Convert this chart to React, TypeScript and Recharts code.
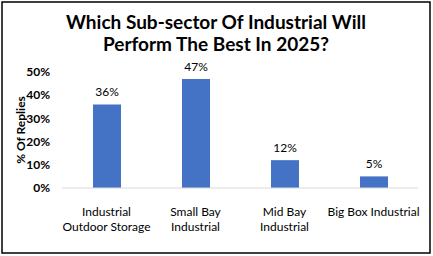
import React from "react";
import { BarChart, Bar, XAxis, YAxis, LabelList, Label } from "recharts";

const categories = ["Industrial\nOutdoor Storage", "Small Bay\nIndustrial", "Mid Bay\nIndustrial", "Big Box Industrial"];
const replies = [0.36, 0.47, 0.12, 0.05];
const yTicks = [0, 0.1, 0.2, 0.3, 0.4, 0.5];
const titleLines = ["Which Sub-sector Of Industrial Will", "Perform The Best In 2025?"];
const yAxisTitle = "% Of Replies";

const data = categories.map((c, i) => ({ name: c, value: replies[i] }));

const FONT = "Lato, 'Open Sans', sans-serif";

const pct = (v: number) => `${Math.round(v * 100)}%`;

const CatTick = (props: any) => {
  const { x, y, payload } = props;
  const lines = String(payload.value).split("\n");
  return (
    <text x={x} y={y} textAnchor="middle" fill="#000" fontSize={12} fontFamily={FONT}>
      {lines.map((l: string, i: number) => (
        <tspan key={i} x={x} dy={i === 0 ? 20 : 15}>
          {l}
        </tspan>
      ))}
    </text>
  );
};

export default function App() {
  return (
    <div style={{ width: 433, height: 256, background: "#fff" }}>
      <style>{`body{margin:0}`}</style>
      <BarChart
        width={433}
        height={256}
        data={data}
        margin={{ top: 72, right: 15, bottom: 0, left: 0 }}
      >
        <rect x={2} y={2} width={428} height={251} fill="none" stroke="#000" strokeWidth={1.5} />
        {titleLines.map((t, i) => (
          <text
            key={i}
            x={216}
            y={29 + i * 22}
            textAnchor="middle"
            fontSize={19}
            fontWeight={700}
            fontFamily={FONT}
            fill="#000"
          >
            {t}
          </text>
        ))}
        <XAxis
          dataKey="name"
          height={68}
          interval={0}
          tickLine={false}
          axisLine={{ stroke: "#d9d9d9" }}
          tick={<CatTick />}
        />
        <YAxis
          width={62}
          domain={[0, 0.5]}
          ticks={yTicks}
          tickFormatter={pct}
          axisLine={false}
          tickLine={false}
          tickSize={0}
          tickMargin={12}
          tick={{ fill: "#000", fontSize: 12, fontWeight: 700, fontFamily: FONT }}
        >
          <Label
            content={() => (
              <text
                transform="translate(20,130) rotate(-90)"
                textAnchor="middle"
                dominantBaseline="central"
                fontSize={12}
                fontWeight={700}
                fontFamily={FONT}
                fill="#000"
              >
                {yAxisTitle}
              </text>
            )}
          />
        </YAxis>
        <Bar dataKey="value" fill="#4472C4" barSize={28} isAnimationActive={false}>
          <LabelList
            dataKey="value"
            position="top"
            offset={8}
            formatter={(v: any) => pct(Number(v))}
            style={{ fill: "#000", fontSize: 12, fontFamily: FONT }}
          />
        </Bar>
      </BarChart>
    </div>
  );
}
